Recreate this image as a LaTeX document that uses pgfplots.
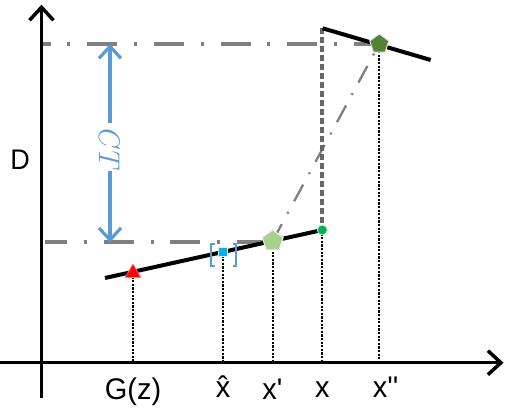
\documentclass[border=0pt]{standalone}
\usepackage{fontspec}
\newfontfamily\labfont{Liberation Sans}
\usepackage{graphicx}
\usepackage{pgfplots}
\pgfplotsset{compat=1.18}
\usetikzlibrary{arrows.meta,plotmarks}

\definecolor{guidegray}{HTML}{808080}
\definecolor{darkgray}{HTML}{666666}
\definecolor{ctblue}{HTML}{5B9BD5}
\definecolor{sqblue}{HTML}{00B0F0}
\definecolor{lightgreen}{HTML}{A9D18E}
\definecolor{dotgreen}{HTML}{00B050}
\definecolor{darkgreen}{HTML}{548235}

\newcommand\lab[1]{\scalebox{1}[1.03]{\labfont\fontsize{29}{34}\selectfont #1}}

\begin{document}
\begin{tikzpicture}
\begin{axis}[
    name=main,
    width=506pt, height=407pt, scale only axis,
    xmin=-41.5, xmax=464.5, ymin=-44.3, ymax=362.7,
    hide axis, clip=false,
    every axis plot/.append style={line cap=butt}
]
% guide lines
\addplot[guidegray, line width=4pt, dash pattern=on 30pt off 16.8pt on 3pt off 16.9pt, dash phase=21pt]
    coordinates {(0,318.7) (337.8,318.7)};
\addplot[guidegray, line width=4pt, dash pattern=on 30pt off 16.8pt on 3pt off 16.9pt, dash phase=8pt]
    coordinates {(3.5,120.4) (231.2,120.4)};
\addplot[guidegray, line width=2.3pt, dash pattern=on 19pt off 12pt on 2pt off 12pt]
    coordinates {(231.2,121.8) (337.8,318.7)};
\addplot[darkgray, line width=4pt, dash pattern=on 5.5pt off 3.5pt]
    coordinates {(280.8,334.4) (280.8,132.7)};

% dotted drop lines
\addplot[black, line width=1.8pt, dash pattern=on 2.2pt off 1.4pt] coordinates {(91.5,89.7) (91.5,0)};
\addplot[black, line width=1.8pt, dash pattern=on 2.2pt off 1.4pt] coordinates {(181.2,110.7) (181.2,0)};
\addplot[black, line width=1.8pt, dash pattern=on 2.2pt off 1.4pt] coordinates {(231.2,121.8) (231.2,0)};
\addplot[black, line width=1.8pt, dash pattern=on 2.2pt off 1.4pt] coordinates {(280.8,132.7) (280.8,0)};
\addplot[black, line width=1.8pt, dash pattern=on 2.2pt off 1.4pt] coordinates {(337.8,318.7) (337.8,0)};

% axes
\addplot[black, line width=3.5pt, -{Straight Barb[length=13pt,width=24pt,line width=3.5pt]}]
    coordinates {(-41.5,0) (462,0)};
\addplot[black, line width=3.5pt, -{Straight Barb[length=13pt,width=24pt,line width=3.5pt]}]
    coordinates {(0,-35.3) (0,358)};

% demand segments
\addplot[black, line width=4pt] coordinates {(63.5,84.7) (280.8,132.7)};
\addplot[black, line width=4pt] coordinates {(281.2,334.4) (389.2,302.7)};

% CT arrow
\addplot[ctblue, line width=3.2pt, {Straight Barb[length=12pt,width=22pt,line width=3.2pt]}-{Straight Barb[length=12pt,width=22pt,line width=3.2pt]}]
    coordinates {(68.5,318.7) (68.5,120.4)};
\node[rotate=-90, fill=white, text=ctblue, inner xsep=3pt, inner ysep=1pt]
    at (axis cs:68.5,216) {\fontsize{30}{34}\selectfont\itshape CT};

% bracket around x-hat
\draw[ctblue, line width=1.5pt] (axis cs:173,118.7) -- (axis cs:169.5,118.7) -- (axis cs:169.5,96.7) -- (axis cs:173,96.7);
\draw[ctblue, line width=1.5pt] (axis cs:191,118.7) -- (axis cs:194.5,118.7) -- (axis cs:194.5,96.7) -- (axis cs:191,96.7);

% points
\addplot[only marks, mark=triangle*, mark size=9pt, color=red, mark options={draw=red!50!white, line width=0.6pt}]
    coordinates {(91.5,89.7)};
\addplot[only marks, mark=square*, mark size=4.5pt, color=sqblue, mark options={draw=white!85!gray, line width=0.8pt}]
    coordinates {(181.2,110.7)};
\addplot[only marks, mark=pentagon*, mark size=11pt, color=lightgreen, mark options={draw=white!85!gray, line width=1pt}]
    coordinates {(231.2,121.8)};
\addplot[only marks, mark=*, mark size=5pt, color=dotgreen, mark options={draw=white!80!dotgreen, line width=0.8pt}]
    coordinates {(280.8,132.7)};
\addplot[only marks, mark=pentagon*, mark size=10pt, color=darkgreen, mark options={draw=white!80!gray, line width=1pt}]
    coordinates {(337.8,318.7)};

% labels
\node[anchor=base, inner sep=0pt] at (axis cs:91.5,-36.3) {\lab{G(z)}};
\node[anchor=base, inner sep=0pt] at (axis cs:181.5,-35) {\lab{x̂}};
\node[anchor=base, inner sep=0pt] at (axis cs:228,-37) {\lab{x\rlap{'}}};
\node[anchor=base, inner sep=0pt] at (axis cs:280.8,-35) {\lab{x}};
\node[anchor=base, inner sep=0pt] at (axis cs:338.5,-35) {\lab{x\rlap{''}}};
\node[inner sep=0pt] at (axis cs:-21.5,202.7) {\scalebox{1}[1.05]{\labfont\fontsize{27}{32}\selectfont D}};
\end{axis}
\pgfresetboundingbox
\path[use as bounding box] (main.south west) rectangle (main.north east);
\end{tikzpicture}
\end{document}
